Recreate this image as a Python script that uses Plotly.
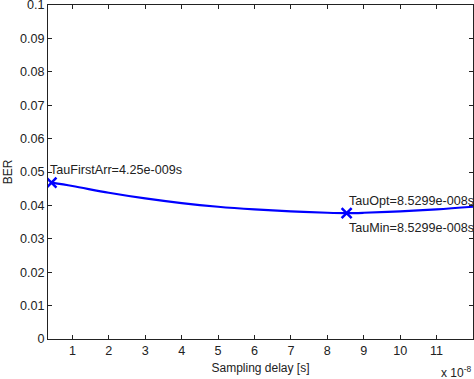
import plotly.graph_objects as go

# Data (x in units of 1e-8 s)
delay = [0.425, 1, 2, 3, 4, 5, 6, 7, 8, 8.5299, 9, 10, 11, 12]
ber = [0.0468, 0.0458, 0.0438, 0.0421, 0.0407, 0.0396, 0.0388, 0.0382, 0.0378, 0.0377, 0.0378, 0.0382, 0.0388, 0.0396]
marker_x = [0.425, 8.5299]
marker_y = [0.0468, 0.0377]
xticks = [1, 2, 3, 4, 5, 6, 7, 8, 9, 10, 11]
yticks = [0, 0.01, 0.02, 0.03, 0.04, 0.05, 0.06, 0.07, 0.08, 0.09, 0.1]
ytick_labels = ["0", "0.01", "0.02", "0.03", "0.04", "0.05", "0.06", "0.07", "0.08", "0.09", "0.1"]

font = dict(family="Liberation Sans, Arial", size=12, color="#222")
font_big = dict(family="Liberation Sans, Arial", size=12.6, color="#222")

fig = go.Figure()
fig.add_trace(go.Scatter(x=delay, y=ber, mode="lines", line=dict(color="#0000ff", width=2.2, shape="spline"), showlegend=False))
fig.add_trace(go.Scatter(x=marker_x, y=marker_y, mode="markers",
                         marker=dict(symbol="x-thin", size=10, line=dict(color="#0000ff", width=2.5)), showlegend=False))

fig.add_annotation(x=marker_x[0], y=marker_y[0], text="TauFirstArr=4.25e-009s", showarrow=False,
                   xanchor="left", yanchor="bottom", yshift=4, xshift=-3, font=font_big)
fig.add_annotation(x=marker_x[1], y=marker_y[1], text="TauOpt=8.5299e-008s", showarrow=False,
                   xanchor="left", yanchor="bottom", yshift=3, font=font_big)
fig.add_annotation(x=marker_x[1], y=marker_y[1], text="TauMin=8.5299e-008s", showarrow=False,
                   xanchor="left", yanchor="top", yshift=-6, font=font_big)
fig.add_annotation(xref="paper", yref="paper", x=1.0, y=-0.1, text="x 10<sup>-8</sup>", showarrow=False,
                   xanchor="right", yanchor="middle", font=font)

fig.update_layout(
    width=474, height=379,
    margin=dict(l=48, r=1, t=5, b=40, autoexpand=False),
    paper_bgcolor="white", plot_bgcolor="white",
    font=font,
    xaxis=dict(range=[0.33, 12], tickvals=xticks, ticks="inside", ticklen=4, tickcolor="#222",
               tickfont=font_big,
               showline=True, linecolor="#222", linewidth=1, mirror="ticks", showgrid=False, zeroline=False,
               title=dict(text="Sampling delay [s]", standoff=6, font=font)),
    yaxis=dict(range=[0, 0.10001], tickvals=yticks, ticktext=ytick_labels, ticks="inside", ticklen=4, tickcolor="#222",
               tickfont=font_big,
               showline=True, linecolor="#222", linewidth=1, mirror="ticks", showgrid=False, zeroline=False,
               ticklabeloverflow="allow",
               title=dict(text="BER", standoff=4, font=font)),
)

fig.write_html("out.html", config={"displayModeBar": False},
               post_script="document.body.style.margin='0';")
